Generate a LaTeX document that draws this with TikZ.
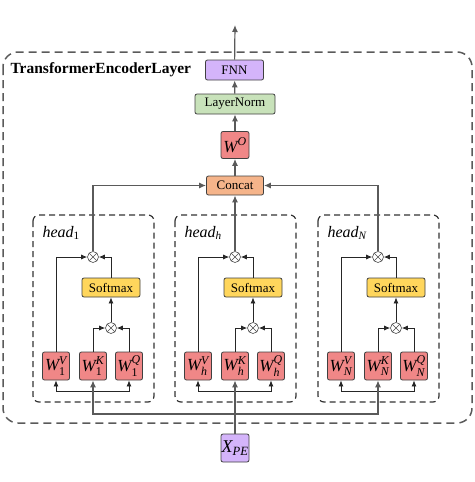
\documentclass[tikz,border=0pt]{standalone}
\usepackage{fontspec}
\usepackage{amsmath}
\setmainfont{Liberation Serif}
\usetikzlibrary{arrows.meta,calc}
\definecolor{cpurple}{RGB}{212,180,250}
\definecolor{cgreen}{RGB}{200,226,186}
\definecolor{cred}{RGB}{240,135,135}
\definecolor{corange}{RGB}{245,180,138}
\definecolor{cyellow}{RGB}{255,214,92}
\definecolor{cline}{RGB}{90,90,90}
\begin{document}
\begin{tikzpicture}[x=1pt,y=-1pt,
  box/.style={draw=black!75, rounded corners=2pt, line width=0.8pt, inner sep=0pt,
    font=\fontsize{13}{13}\selectfont},
  wbox/.style={box, fill=cred, minimum width=27pt, minimum height=28pt,
    font=\fontsize{17}{17}\selectfont},
  otimes/.style={circle, draw=black!70, fill=white, minimum size=11pt, inner sep=0pt,
    line width=0.6pt,
    path picture={\draw[black!70, line width=0.6pt]
      (path picture bounding box.north west) -- (path picture bounding box.south east)
      (path picture bounding box.north east) -- (path picture bounding box.south west);}},
  arr/.style={-{Latex[length=6pt,width=5pt]}, line width=0.8pt, draw=black!85},
  main/.style={draw=cline, line width=1.2pt, -{Latex[length=7pt,width=6pt]}},
  headbox/.style={draw=black!80, dashed, dash pattern=on 6pt off 4pt, line width=1.2pt, rounded corners=6pt},
  outerbox/.style={draw=cline, dash pattern=on 8pt off 5pt, line width=1.5pt, rounded corners=15pt}
]
\useasboundingbox (0,0) rectangle (474,482);

% outer box
\draw[outerbox] (3,52) rectangle (472,423);
\node[anchor=west, font=\fontsize{15.5}{16}\selectfont\bfseries] (title) at (7,70) {TransformerEncoderLayer};

% main chain
\node[box, fill=cpurple, minimum width=58pt, minimum height=20pt] (fnn) at (234.5,70) {FNN};
\node[box, fill=cgreen, minimum width=80pt, minimum height=20pt] (ln) at (235,104) {LayerNorm};
\node[wbox, minimum height=27pt, minimum width=28pt] (wo) at (235,145) {$\textit{W}^{\textit{O}}$};
\node[box, fill=corange, minimum width=57pt, minimum height=19pt] (concat) at (235,185.5) {Concat};
\coordinate (out) at (235,25);
\node[box, fill=cpurple, minimum width=28pt, minimum height=28pt, font=\fontsize{18}{18}\selectfont] (xpe) at (235,448) {$\textit{X}_{\textit{PE}}$};

\draw[main] (concat) -- (wo);
\draw[main] (wo) -- (ln);
\draw[main] (ln) -- (fnn);
\draw[main] (fnn) -- (out);

% heads
\foreach \n/\cx/\s in {1/93/{\textup{1}}, h/235/{\textit{h}}, N/378/{\textit{N}}}{
  \draw[headbox] (\cx-60,215) rectangle (\cx+61,402);
  \node[anchor=west, font=\fontsize{16}{16}\selectfont] (lab\n) at (\cx-54,233) {\textit{head}$_{\s}$};
  \node[wbox] (V\n) at (\cx-37,366) {$\textit{W}^{\textit{V}}_{\s}$};
  \node[wbox] (K\n) at (\cx,366) {$\textit{W}^{\textit{K}}_{\s}$};
  \node[wbox] (Q\n) at (\cx+36,366) {$\textit{W}^{\textit{Q}}_{\s}$};
  \node[otimes] (mt\n) at (\cx,257) {};
  \node[otimes] (ml\n) at (\cx+18,328) {};
  \node[box, fill=cyellow, minimum width=58pt, minimum height=19pt] (sm\n) at (\cx+18,287.5) {Softmax};
  \coordinate (b\n) at (\cx,391);
  \draw[arr] (V\n.north) |- (mt\n.west);
  \draw[arr] (sm\n.north) |- (mt\n.east);
  \draw[arr] (K\n.north) |- (ml\n.west);
  \draw[arr] (Q\n.north) |- (ml\n.east);
  \draw[arr] (ml\n.north) -- (sm\n.south);
  \draw[arr] (b\n) -| (V\n.south);
  \draw[arr] (b\n) -| (Q\n.south);
}

% head outputs to concat
\draw[main] (mt1.north) |- (concat.west);
\draw[main] (mth.north) -- (concat.south);
\draw[main] (mtN.north) |- (concat.east);

% input distribution
\coordinate (in) at (235,414);
\draw[main] (xpe.north) -- (Kh.south);
\draw[main] (in) -| (K1.south);
\draw[main] (in) -| (KN.south);
\end{tikzpicture}
\end{document}
